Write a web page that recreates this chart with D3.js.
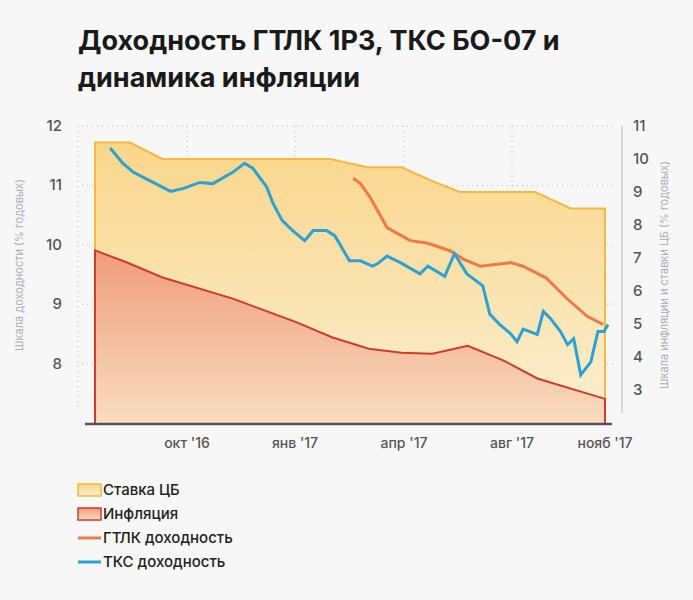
<!DOCTYPE html>
<html><head><meta charset="utf-8">
<script src="https://cdn.jsdelivr.net/npm/d3@7"></script>
<style>body{margin:0;background:#f7f7f7;font-family:Inter,"Open Sans",sans-serif}</style>
</head><body>
<script>
// Data (dates, values)
const cbDates = ["2016-07-14","2016-08-13","2016-09-10","2017-01-30","2017-03-02","2017-03-30","2017-05-06","2017-06-03","2017-08-24","2017-09-28","2017-11-01"];
const cbRate  = [10.5,10.5,10,10,9.75,9.75,9.3,9,9,8.5,8.5];
const inflDates = ["2016-07-14","2016-08-10","2016-09-10","2016-11-09","2017-01-03","2017-02-01","2017-03-03","2017-03-30","2017-05-03","2017-06-12","2017-07-22","2017-08-26","2017-11-01"];
const inflation = [7.23,6.87,6.41,5.77,5.04,4.59,4.25,4.13,4.1,4.34,3.9,3.35,2.73];
const gtlkDates = ["2017-02-18","2017-02-24","2017-03-04","2017-03-10","2017-03-18","2017-04-08","2017-04-27","2017-05-23","2017-06-07","2017-06-26","2017-07-30","2017-08-12","2017-09-04","2017-09-24","2017-10-14","2017-10-30"];
const gtlkYield = [11.12,11.03,10.8,10.58,10.29,10.07,10.03,9.9,9.76,9.64,9.7,9.64,9.44,9.1,8.8,8.66];
const tksDates = ["2016-07-27","2016-08-07","2016-08-16","2016-08-30","2016-09-17","2016-09-28","2016-10-12","2016-10-23","2016-11-09","2016-11-19","2016-11-26","2016-12-08","2016-12-13","2016-12-21","2016-12-30","2017-01-09","2017-01-16","2017-01-27","2017-02-03","2017-02-15","2017-02-24","2017-03-06","2017-03-10","2017-03-18","2017-03-29","2017-04-19","2017-04-28","2017-05-17","2017-05-28","2017-06-11","2017-06-29","2017-07-07","2017-07-18","2017-07-30","2017-08-06","2017-08-12","2017-08-26","2017-09-01","2017-09-08","2017-09-18","2017-09-25","2017-10-01","2017-10-08","2017-10-18","2017-10-25","2017-10-31","2017-11-04"];
const tksYield = [11.63,11.37,11.22,11.08,10.9,10.95,11.05,11.03,11.22,11.37,11.29,10.97,10.71,10.41,10.24,10.07,10.24,10.24,10.15,9.73,9.73,9.64,9.68,9.81,9.7,9.51,9.64,9.47,9.85,9.51,9.31,8.83,8.66,8.51,8.37,8.58,8.49,8.88,8.76,8.54,8.32,8.42,7.81,8.03,8.54,8.54,8.66];
const tickDates = ["2016-10-01","2017-01-01","2017-04-01","2017-08-01","2017-11-01"];
const tickLabels = ["окт '16","янв '17","апр '17","авг '17","нояб '17"];
const leftTicks = [8,9,10,11,12];
const rightTicks = [3,4,5,6,7,8,9,10,11];

const P = d3.timeParse("%Y-%m-%d");
const zip = (ds, vs) => ds.map((d, i) => ({date: P(d), v: vs[i]}));
const cb = zip(cbDates, cbRate), infl = zip(inflDates, inflation),
      gtlk = zip(gtlkDates, gtlkYield), tks = zip(tksDates, tksYield);

const svg = d3.select("body").append("svg").attr("width", 693).attr("height", 600);

const x = d3.scaleTime()
    .domain(["2016-07-14", ...tickDates].map(P))
    .range([95, 187, 295, 404, 512, 605]);
const yL = d3.scaleLinear().domain([7, 12]).range([423, 126]);
const yR = d3.scaleLinear().domain([2, 11]).range([423, 126]);

// Title
svg.append("text").attr("x", 78).attr("y", 50).attr("font-size", 27).attr("font-weight", 700).attr("fill", "#1a1a1a")
    .text("Доходность ГТЛК 1Р3, ТКС БО-07 и");
svg.append("text").attr("x", 78).attr("y", 87).attr("font-size", 27).attr("font-weight", 700).attr("fill", "#1a1a1a")
    .text("динамика инфляции");

// Gradients
const defs = svg.append("defs");
const grad = (id, c1, c2) => {
  const g = defs.append("linearGradient").attr("id", id).attr("x1", 0).attr("y1", 0).attr("x2", 0).attr("y2", 1);
  g.append("stop").attr("offset", "0%").attr("stop-color", c1);
  g.append("stop").attr("offset", "100%").attr("stop-color", c2);
};
grad("gCb", "#fad68a", "#fbefd2");
grad("gInf", "#f09c7c", "#f9dcc0");

// Grid
const grid = svg.append("g").attr("stroke", "#ccc").attr("stroke-dasharray", "1,4").attr("stroke-width", 1.5);
leftTicks.forEach(t => grid.append("line").attr("x1", 82).attr("x2", 615).attr("y1", yL(t)).attr("y2", yL(t)));
tickDates.slice(0, 4).forEach(d => grid.append("line").attr("x1", x(P(d))).attr("x2", x(P(d))).attr("y1", 126).attr("y2", 423));
grid.append("line").attr("x1", 78).attr("x2", 78).attr("y1", 126).attr("y2", 410);

// Areas
const areaR = d3.area().x(d => x(d.date)).y0(423).y1(d => yR(d.v));
const lineR = d3.line().x(d => x(d.date)).y(d => yR(d.v));
const lineL = d3.line().x(d => x(d.date)).y(d => yL(d.v));
const edge = arr => [{date: arr[0].date, v: 2}, ...arr, {date: arr[arr.length - 1].date, v: 2}];

svg.append("path").attr("d", areaR(cb)).attr("fill", "url(#gCb)");
svg.append("path").attr("d", lineR(edge(cb))).attr("fill", "none").attr("stroke", "#f4b942").attr("stroke-width", 2);
svg.append("path").attr("d", areaR(infl)).attr("fill", "url(#gInf)");
svg.append("path").attr("d", lineR(edge(infl))).attr("fill", "none").attr("stroke", "#d23a2a").attr("stroke-width", 2);

svg.append("path").attr("d", lineL(gtlk)).attr("fill", "none").attr("stroke", "#f07a45").attr("stroke-width", 3);
svg.append("path").attr("d", lineL(tks)).attr("fill", "none").attr("stroke", "#2ea1d4").attr("stroke-width", 3);

// Baseline / x axis
svg.append("line").attr("x1", 85).attr("x2", 612).attr("y1", 424).attr("y2", 424).attr("stroke", "#555").attr("stroke-width", 2.5);
svg.append("g").selectAll("text").data(tickDates).join("text")
    .attr("x", d => x(P(d))).attr("y", 448).attr("text-anchor", "middle").attr("font-weight", 500)
    .attr("font-size", 14).attr("fill", "#555").text((d, i) => tickLabels[i]);

// Y axes
svg.append("g").selectAll("text").data(leftTicks).join("text")
    .attr("x", 62).attr("y", d => yL(d) + 5).attr("text-anchor", "end").attr("font-weight", 500)
    .attr("font-size", 15).attr("fill", "#555").text(d => d);
svg.append("line").attr("x1", 622).attr("x2", 622).attr("y1", 126).attr("y2", 413).attr("stroke", "#ccc").attr("stroke-width", 1.5);
svg.append("g").selectAll("text").data(rightTicks).join("text")
    .attr("x", 633).attr("y", d => yR(d) + 5).attr("font-weight", 500)
    .attr("font-size", 15).attr("fill", "#555").text(d => d);
svg.append("text").attr("transform", "translate(23,265) rotate(-90)").attr("text-anchor", "middle")
    .attr("font-size", 11).attr("fill", "#a9b0b8").text("Шкала доходности (% годовых)");
svg.append("text").attr("transform", "translate(668,275) rotate(-90)").attr("text-anchor", "middle")
    .attr("font-size", 11).attr("fill", "#a9b0b8").text("Шкала  инфляции и ставки ЦБ (% годовых)");

// Legend
const legend = [
  {label: "Ставка ЦБ", type: "area", fill: "url(#gCb)", stroke: "#f4b942"},
  {label: "Инфляция", type: "area", fill: "url(#gInf)", stroke: "#d23a2a"},
  {label: "ГТЛК доходность", type: "line", stroke: "#f07a45"},
  {label: "ТКС доходность", type: "line", stroke: "#2ea1d4"}
];
const lg = svg.append("g").selectAll("g").data(legend).join("g")
    .attr("transform", (d, i) => `translate(78,${490 + i * 24})`);
lg.filter(d => d.type === "area").append("rect").attr("x", 0).attr("y", -6).attr("width", 23).attr("height", 12)
    .attr("fill", d => d.fill).attr("stroke", d => d.stroke).attr("stroke-width", 1.5);
lg.filter(d => d.type === "line").append("line").attr("x1", 0).attr("x2", 23).attr("y1", 0).attr("y2", 0)
    .attr("stroke", d => d.stroke).attr("stroke-width", 3);
lg.append("text").attr("x", 25).attr("y", 5).attr("font-size", 15).attr("font-weight", 500).attr("fill", "#222").text(d => d.label);
</script>
</body></html>
